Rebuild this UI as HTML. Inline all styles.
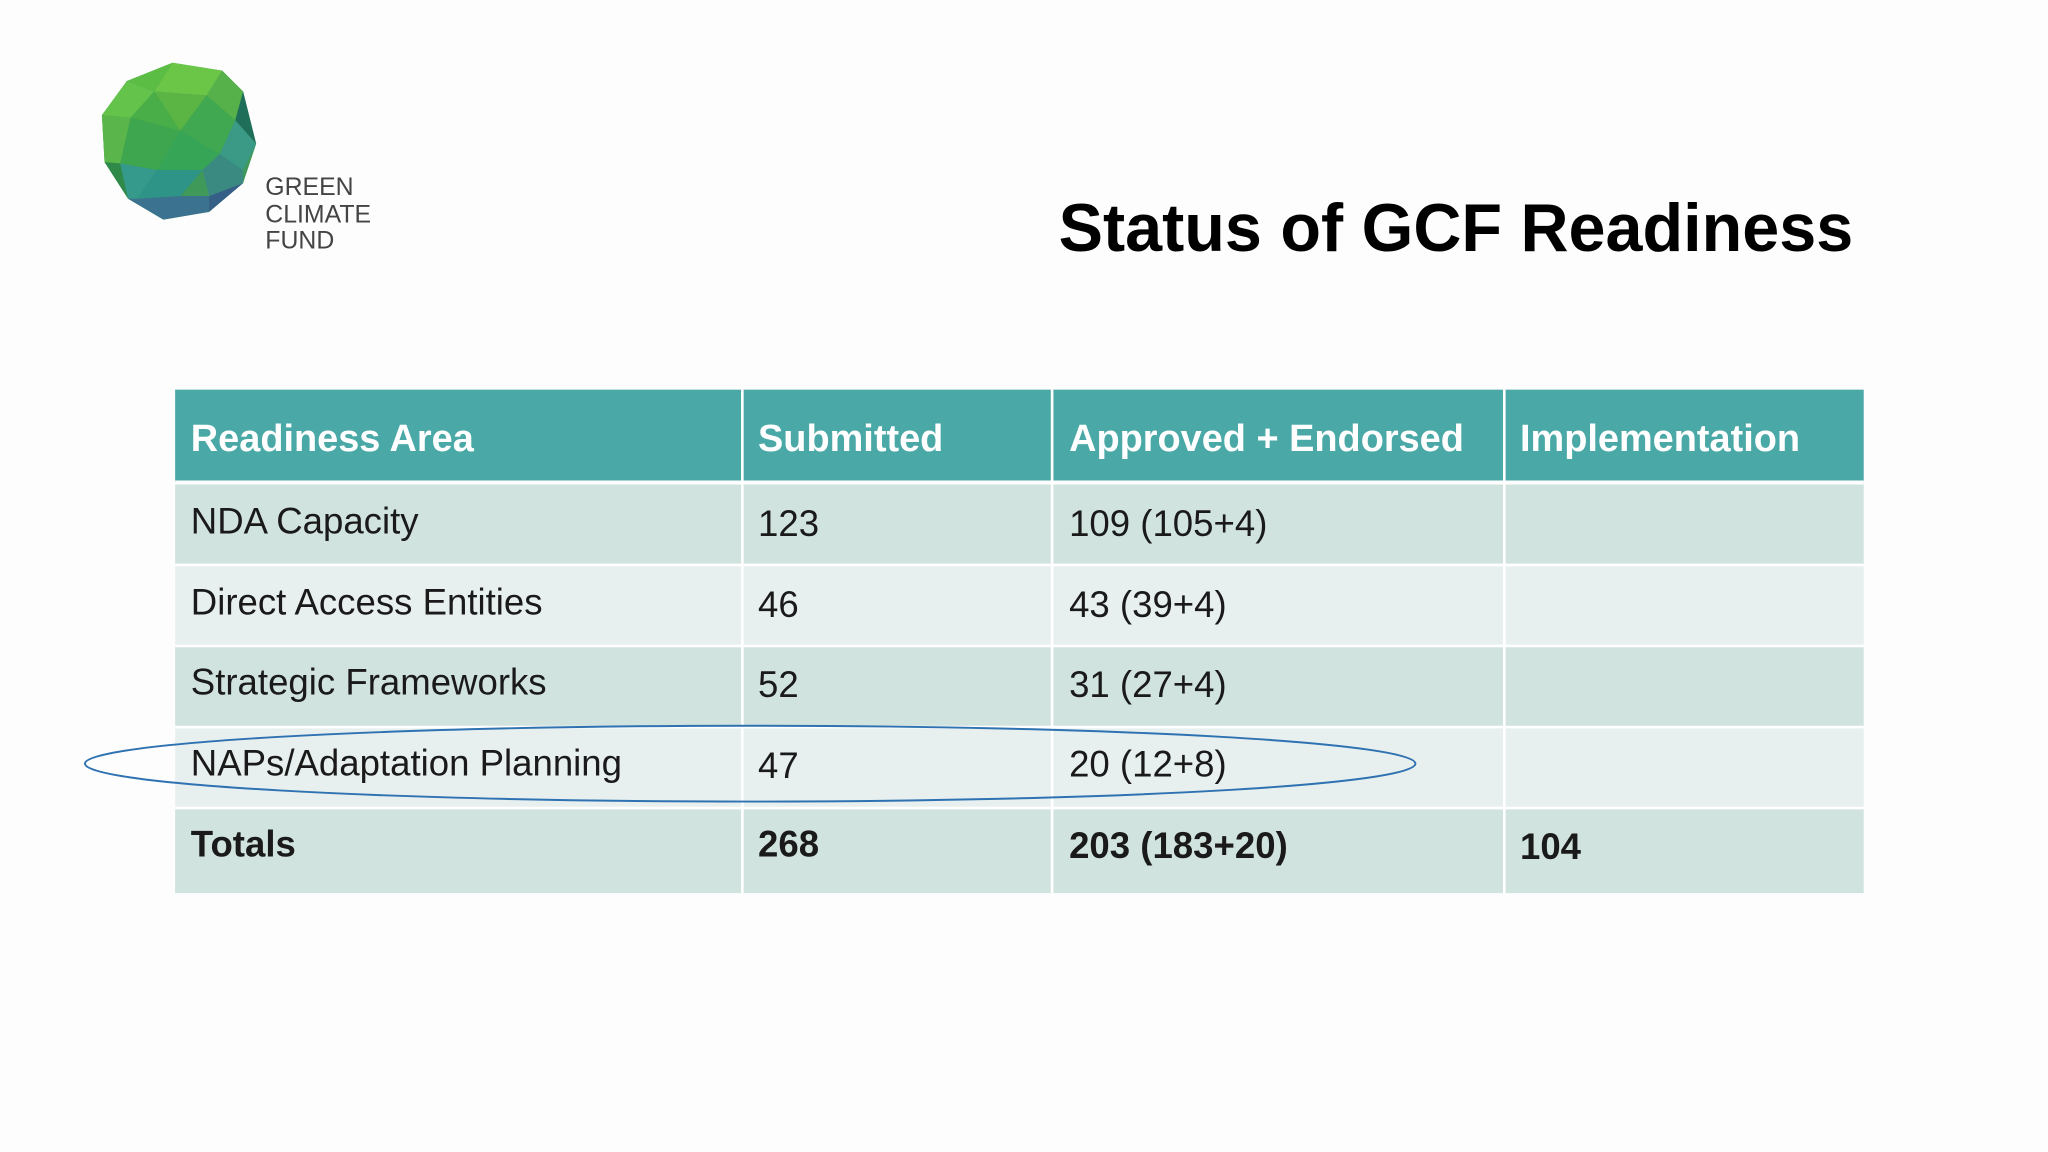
<!DOCTYPE html>
<html><head><meta charset="utf-8"><style>
html,body{margin:0;padding:0;background:#fdfdfd}
svg{display:block}
text{font-family:"Liberation Sans",sans-serif}
</style></head><body>
<svg width="2048" height="1152" viewBox="0 0 1567 881" preserveAspectRatio="none">
<rect width="1567" height="881" fill="#fdfdfd"/>
<g>
 <polygon points="132,48 170,54 186,70 196,110 186,140 160,162 125,168 98,152 80,124 78,88 97,62" fill="#3f9a5a"/>
 <polygon points="132,48 170,54 158,73 118,70" fill="#6bc648"/>
 <polygon points="132,48 118,70 97,62" fill="#5cbd45"/>
 <polygon points="97,62 118,70 100,90 78,88" fill="#63c34a"/>
 <polygon points="118,70 158,73 138,100" fill="#5ab544"/>
 <polygon points="170,54 186,70 180,92 158,73" fill="#56b14a"/>
 <polygon points="158,73 180,92 168,118 138,100" fill="#40a850"/>
 <polygon points="118,70 138,100 100,90" fill="#4aae48"/>
 <polygon points="78,88 100,90 92,125 80,124" fill="#5ab54a"/>
 <polygon points="100,90 138,100 120,130 92,125" fill="#3ea64e"/>
 <polygon points="138,100 168,118 155,130 120,130" fill="#37a556"/>
 <polygon points="186,70 196,110 180,92" fill="#1f6e5a"/>
 <polygon points="180,92 196,110 186,130 168,118" fill="#3a9a86"/>
 <polygon points="80,124 92,125 98,152" fill="#2f8a4a"/>
 <polygon points="92,125 120,130 105,152 98,152" fill="#35998c"/>
 <polygon points="120,130 155,130 138,150 105,152" fill="#2f9488"/>
 <polygon points="155,130 168,118 186,130 186,140 160,150" fill="#3b8a82"/>
 <polygon points="105,152 138,150 160,150 160,162 125,168 98,152" fill="#3a7290"/>
 <polygon points="186,140 160,162 160,150" fill="#355f86"/>
 <text x="203" y="149" font-size="19" fill="#444">GREEN</text>
 <text x="203" y="170" font-size="19" fill="#444">CLIMATE</text>
 <text x="203" y="190" font-size="19" fill="#444">FUND</text>
</g>
<text x="1418" y="192" text-anchor="end" font-size="52" font-weight="bold" fill="#000" textLength="608" lengthAdjust="spacingAndGlyphs">Status of GCF Readiness</text>
<g>
 <rect x="134" y="298" width="1292" height="71" fill="#4aa9a7"/>
 <rect x="134" y="369" width="1292" height="63" fill="#d1e3df"/>
 <rect x="134" y="432" width="1292" height="62" fill="#e8f0ef"/>
 <rect x="134" y="494" width="1292" height="62" fill="#d1e3df"/>
 <rect x="134" y="556" width="1292" height="62" fill="#e8f0ef"/>
 <rect x="134" y="618" width="1292" height="65" fill="#d1e3df"/>
 <g stroke="#ffffff" stroke-width="2">
  <line x1="568" y1="298" x2="568" y2="683"/><line x1="805" y1="298" x2="805" y2="683"/><line x1="1151" y1="298" x2="1151" y2="683"/>
  <line x1="134" y1="369" x2="1426" y2="369" stroke-width="3"/><line x1="134" y1="432" x2="1426" y2="432"/>
  <line x1="134" y1="494" x2="1426" y2="494"/><line x1="134" y1="556" x2="1426" y2="556"/><line x1="134" y1="618" x2="1426" y2="618"/>
 </g>
 <g font-size="29" font-weight="bold" fill="#fff">
  <text x="146" y="345">Readiness Area</text>
  <text x="580" y="345">Submitted</text>
  <text x="818" y="345">Approved + Endorsed</text>
  <text x="1163" y="345">Implementation</text>
 </g>
 <g font-size="28" fill="#1a1a1a">
  <text x="146" y="408">NDA Capacity</text>
  <text x="580" y="410">123</text>
  <text x="818" y="410">109 (105+4)</text>
  <text x="146" y="470">Direct Access Entities</text>
  <text x="580" y="472">46</text>
  <text x="818" y="472">43 (39+4)</text>
  <text x="146" y="531">Strategic Frameworks</text>
  <text x="580" y="533">52</text>
  <text x="818" y="533">31 (27+4)</text>
  <text x="146" y="593">NAPs/Adaptation Planning</text>
  <text x="580" y="595">47</text>
  <text x="818" y="594">20 (12+8)</text>
 </g>
 <g font-size="28" font-weight="bold" fill="#1a1a1a">
  <text x="146" y="655">Totals</text>
  <text x="580" y="655">268</text>
  <text x="818" y="656">203 (183+20)</text>
  <text x="1163" y="657">104</text>
 </g>
</g>
<ellipse cx="574" cy="584" rx="509" ry="29" fill="none" stroke="#2f72b2" stroke-width="1.5"/>
</svg>
</body></html>
